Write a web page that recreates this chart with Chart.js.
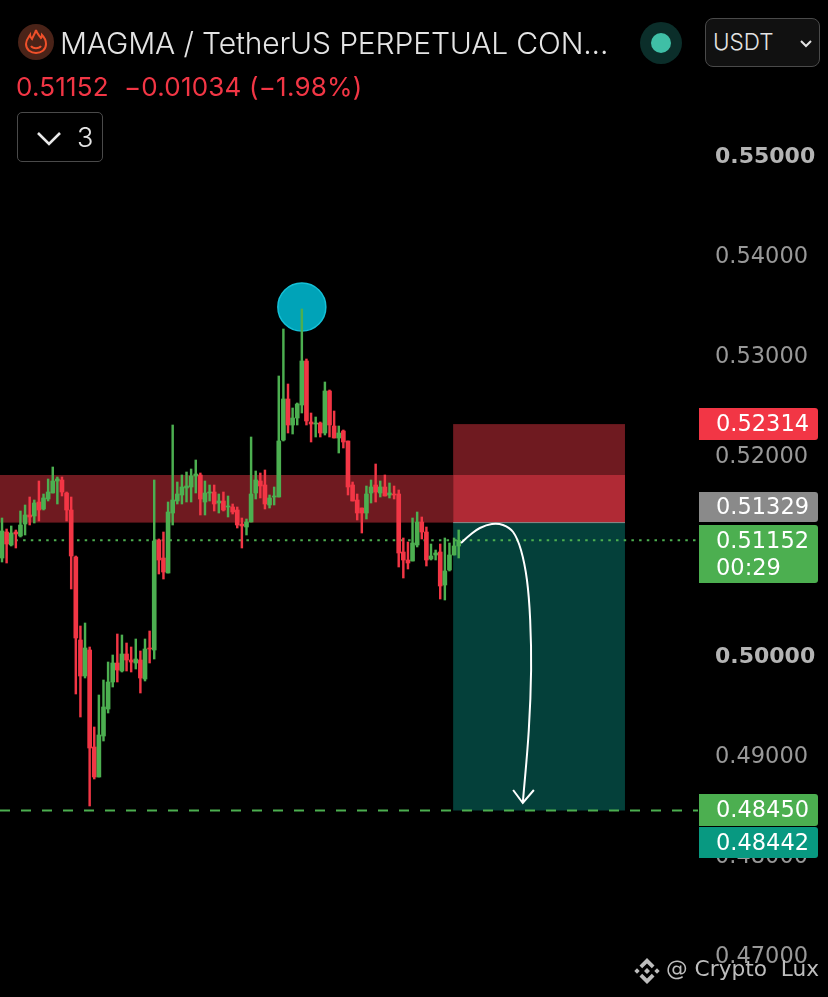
<!DOCTYPE html>
<html><head><meta charset="utf-8">
<script src="https://cdn.jsdelivr.net/npm/chart.js@4"></script>
<style>
html,body{margin:0;padding:0;background:#000;width:828px;height:997px;overflow:hidden}
#wrap{position:relative;width:828px;height:997px}
canvas{position:absolute;left:0;top:0}
.t{position:absolute;white-space:pre;font-family:Inter,sans-serif}
</style></head><body><div id="wrap">
<canvas id="c" width="828" height="997"></canvas>
<svg class="t" style="left:18px;top:24px" width="36" height="36" viewBox="0 0 36 36"><circle cx="18" cy="18" r="18" fill="#4a2318"/><path d="M18 6c1 4 3 5 5 8 1-1 1-2 1-3 3 3 4 6 4 9 0 6-5 9-10 9s-10-3-10-9c0-4 2-6 4-9 0 2 1 3 2 4 1-3 3-5 4-9z" fill="none" stroke="#f0502a" stroke-width="2"/><path d="M13 22c2 3 8 3 10 0" fill="none" stroke="#f0502a" stroke-width="2"/></svg>
<div class="t" style="left:60px;top:25px;font-size:30px;font-weight:300;color:#e4e4e4;letter-spacing:-.14px">MAGMA / TetherUS PERPETUAL CON...</div>
<div class="t" style="left:16px;top:71px;font-size:26px;font-weight:400;color:#f23645;letter-spacing:.2px">0.51152  −0.01034 (−1.98%)</div>
<div class="t" style="left:17px;top:112px;width:84px;height:48px;border:1.5px solid #4a4a4a;border-radius:5px"></div>
<svg class="t" style="left:36px;top:130px" width="26" height="16"><path d="M2 3l11 11 11-11" fill="none" stroke="#e8e8e8" stroke-width="2.6"/></svg>
<div class="t" style="left:77px;top:121px;font-size:27px;font-weight:300;color:#e4e4e4">3</div>
<div class="t" style="left:640px;top:22px;width:42px;height:42px;border-radius:50%;background:#0b2e2a"></div>
<div class="t" style="left:651px;top:33px;width:20px;height:20px;border-radius:50%;background:#3fbfa6"></div>
<div class="t" style="left:705px;top:18px;width:113px;height:47px;border:1.5px solid #4a4a4a;border-radius:8px;background:#111"></div>
<div class="t" style="left:713px;top:28px;font-size:22.5px;font-weight:300;color:#e4e4e4">USDT</div>
<svg class="t" style="left:800px;top:40px" width="12" height="8"><path d="M1 1l5 5 5-5" fill="none" stroke="#e4e4e4" stroke-width="2"/></svg>
<svg class="t" style="left:633px;top:957px" width="28" height="28" viewBox="0 0 28 28" fill="#bdbdbd"><path d="M14 1l7.500 7.500-2.700 2.700L14 6.400l-4.800 4.800-2.700-2.700zM14 27l7.500-7.500-2.700-2.700L14 21.600l-4.800-4.800-2.700 2.700zM4 11.300L6.700 14 4 16.700 1.300 14zM24 11.300l2.700 2.700-2.700 2.700-2.700-2.700zM14 11l3 3-3 3-3-3z"/></svg>
<div class="t" style="left:666px;top:956px;font-family:'DejaVu Sans';font-size:21.7px;color:#bdbdbd">@ Crypto  Lux</div>
</div>
<script>
const opens=[.50975,.51235,.51105,.51235,.51195,.51315,.51405,.51395,.51535,.51465,.51565,.51625,.51745,.51755,.51625,.51455,.50985,.50155,.49795,.50055,.49085,.48785,.49195,.49465,.49735,.49925,.49845,.50015,.49955,.49925,.49955,.49765,.50075,.50055,.51155,.50975,.50825,.51425,.51545,.51605,.51675,.51685,.51795,.51805,.51535,.51625,.51635,.51525,.51545,.51485,.51485,.51455,.51315,.51285,.51335,.51625,.51745,.51705,.51505,.51585,.51585,.52155,.52565,.52305,.52375,.52505,.52945,.52335,.52315,.52325,.52225,.52645,.52295,.52175,.52245,.52145,.51705,.51555,.51475,.51425,.51625,.51705,.51625,.51685,.51605,.51615,.51615,.51035,.50955,.50945,.51105,.51335,.51235,.50965,.51005,.51035,.50705,.50855,.51005,.51095];
const highs=[.51375,.51265,.51295,.51255,.51445,.51505,.51585,.51555,.51745,.51615,.51765,.51885,.51785,.51785,.51635,.51585,.50995,.50295,.50325,.50085,.49285,.49605,.49755,.49935,.50005,.50215,.50205,.50125,.50085,.50165,.50045,.50165,.50245,.51755,.51165,.51235,.51535,.52305,.51735,.51805,.51835,.51865,.51955,.51825,.51745,.51705,.51705,.51615,.51635,.51595,.51515,.51485,.51375,.51365,.52185,.51845,.51825,.51855,.51605,.51685,.52795,.53265,.52715,.52475,.52525,.53465,.52965,.52425,.52385,.52335,.52735,.52655,.52445,.52295,.52255,.52145,.51735,.51615,.51475,.51695,.51755,.51915,.51745,.51805,.51725,.51695,.51655,.51175,.51135,.51375,.51435,.51385,.51285,.51115,.51055,.51115,.51175,.51125,.51175,.51255];
const lows=[.50935,.50925,.51095,.51075,.51185,.51205,.51305,.51325,.51345,.51455,.51545,.51625,.51515,.51595,.51345,.50665,.49615,.49385,.49775,.48495,.48765,.48785,.49145,.49425,.49685,.49735,.49835,.49845,.49835,.49865,.49625,.49745,.49925,.49965,.50815,.50765,.50825,.51305,.51515,.51515,.51535,.51535,.51625,.51405,.51405,.51545,.51445,.51425,.51445,.51385,.51415,.51275,.51075,.51205,.51335,.51565,.51575,.51465,.51475,.51505,.51585,.52145,.52225,.52215,.52305,.52425,.52305,.52135,.52185,.52185,.52205,.52185,.52175,.52025,.52075,.51605,.51545,.51355,.51225,.51365,.51525,.51535,.51585,.51595,.51575,.51565,.50885,.50775,.50865,.50945,.51085,.51165,.50895,.50955,.50955,.50565,.50555,.50845,.51005,.50975];
const closes=[.51245,.51115,.51225,.51215,.51305,.51405,.51385,.51525,.51455,.51575,.51635,.51745,.51765,.51635,.51455,.50995,.50175,.49795,.50075,.49075,.48785,.49205,.49485,.49735,.49925,.49855,.50015,.49955,.49935,.49965,.49775,.50065,.50065,.51145,.50955,.50835,.51435,.51555,.51615,.51685,.51695,.51795,.51815,.51565,.51625,.51635,.51515,.51545,.51455,.51495,.51435,.51305,.51295,.51335,.51615,.51755,.51695,.51515,.51575,.51595,.52145,.52565,.52305,.52375,.52515,.52945,.52345,.52315,.52325,.52225,.52645,.52305,.52175,.52225,.52135,.51685,.51545,.51425,.51425,.51615,.51685,.51635,.51685,.51595,.51625,.51605,.51025,.50955,.50925,.51125,.51335,.51235,.50955,.50995,.51025,.50695,.50845,.51005,.51095,.51152];
const yTicks=[.47,.48,.49,.5,.51,.52,.53,.54,.55];
const boldTicks=[.5,.55];
const lastPrice=.51152, targetPrice=.4845, entryPrice=.51329, stopPrice=.52314, zoneTop=.51805;
const planStart=97.8, planEnd=135.05;
const peakMark=[{x:65,y:.53485}];
const arrowX=[99.5,101.45,103.6,106.2,108.6,110.8,112.5,113.8,114.5,114.7,114.2,112.9];
const arrowY=[.51125,.51205,.51275,.51315,.51305,.51235,.51055,.50755,.50355,.49855,.49255,.48525];
const headX=[110.8,112.9,115.3];
const headY=[.48655,.48525,.48655];
const priceTags=[["0.52314",null,"#f23645"],["0.51329",null,"#8a8a8a"],["0.51152","00:29","#4caf50"],["0.48450",null,"#4caf50"],["0.48442",null,"#089981"]];
const GREEN="#4caf50",RED="#f23645";
const xMin=-0.434,xMax=150.88,yMin=.46585,yMax=.56555;
const idx=opens.map((_,i)=>i);
const cols=idx.map(i=>closes[i]<opens[i]?RED:GREEN);
const zip=(a,b)=>a.map((v,i)=>({x:v,y:b[i]}));
const isBold=c=>c.tick&&boldTicks.includes(c.tick.value);
const zones={id:"zones",beforeDatasetsDraw(ch){
 const c=ch.ctx,x=ch.scales.x,y=ch.scales.y;
 const r=(x0,x1,v0,v1,col)=>{c.fillStyle=col;const a=y.getPixelForValue(v0),b=y.getPixelForValue(v1);c.fillRect(x.getPixelForValue(x0),a,x.getPixelForValue(x1)-x.getPixelForValue(x0),b-a);};
 r(xMin,planStart,zoneTop,entryPrice,"#6f1a20");
 r(planStart,planEnd,stopPrice,zoneTop,"#6f1a20");
 r(planStart,planEnd,zoneTop,entryPrice,"#b02a35");
 r(planStart,planEnd,entryPrice,targetPrice,"#04403a");
 r(planStart,planEnd,entryPrice+.00005,entryPrice-.00005,"#8c8c8c");
}};
const tags={id:"tags",afterDraw(ch){
 const c=ch.ctx;
 const layout=[[408,32],[492,30],[525,58],[794,32],[827,31]];
 priceTags.forEach((t,i)=>{
  const [top,h]=layout[i];
  c.fillStyle=t[2];c.beginPath();c.roundRect(699,top,119,h,[0,3,3,0]);c.fill();
  c.fillStyle="#fff";c.font="22.5px 'DejaVu Sans'";c.textAlign="left";c.textBaseline="middle";
  if(t[1]){c.fillText(t[0],716,top+17.5);c.fillText(t[1],716,top+44.5);}
  else c.fillText(t[0],716,top+h/2+1.5);
 });
}};
new Chart(document.getElementById("c"),{
 type:"bar",
 plugins:[zones,tags],
 data:{datasets:[
  {type:"line",order:0,data:zip(arrowX,arrowY),borderColor:"#fff",borderWidth:2,pointRadius:0,tension:.4,fill:false},
  {type:"line",order:0,data:zip(headX,headY),borderColor:"#fff",borderWidth:2,pointRadius:0,tension:0,fill:false},
  {type:"bar",order:1,grouped:false,barThickness:4,data:idx.map(i=>({x:i,y:[opens[i],closes[i]]})),backgroundColor:cols,borderSkipped:false},
  {type:"bar",order:2,grouped:false,barThickness:1.8,data:idx.map(i=>({x:i,y:[lows[i],highs[i]]})),backgroundColor:cols,borderSkipped:false},
  {type:"line",order:3,data:[{x:xMin,y:lastPrice},{x:xMax,y:lastPrice}],borderColor:GREEN,borderWidth:2,borderDash:[2.5,5.2],pointRadius:0},
  {type:"line",order:3,data:[{x:xMin,y:targetPrice},{x:xMax,y:targetPrice}],borderColor:GREEN,borderWidth:2,borderDash:[10,11],pointRadius:0},
  {type:"scatter",order:4,data:peakMark,pointRadius:24,pointBackgroundColor:"#00a3b8",pointBorderColor:"#14c0d6",pointBorderWidth:1.5}
 ]},
 options:{responsive:false,animation:false,devicePixelRatio:1,
  layout:{padding:0,autoPadding:false},
  plugins:{legend:{display:false},tooltip:{enabled:false}},
  scales:{
   x:{type:"linear",display:false,min:xMin,max:xMax,offset:false},
   y:{position:"right",min:yMin,max:yMax,
    afterFit(s){s.width=130;s.paddingTop=0;s.paddingBottom=0;s.paddingLeft=0;s.paddingRight=0},
    afterBuildTicks(s){s.ticks=yTicks.map(v=>({value:v}))},
    grid:{display:false,drawTicks:false},border:{display:false},
    ticks:{padding:17,autoSkip:false,align:"center",labelOffset:2,
     callback:v=>v.toFixed(5),
     color:c=>isBold(c)?"#b4b4b4":"#989898",
     font:c=>isBold(c)?{family:"DejaVu Sans",size:22,weight:"bold"}:{family:"DejaVu Sans",size:22.5}}
   }
  }
 }
});
</script></body></html>
